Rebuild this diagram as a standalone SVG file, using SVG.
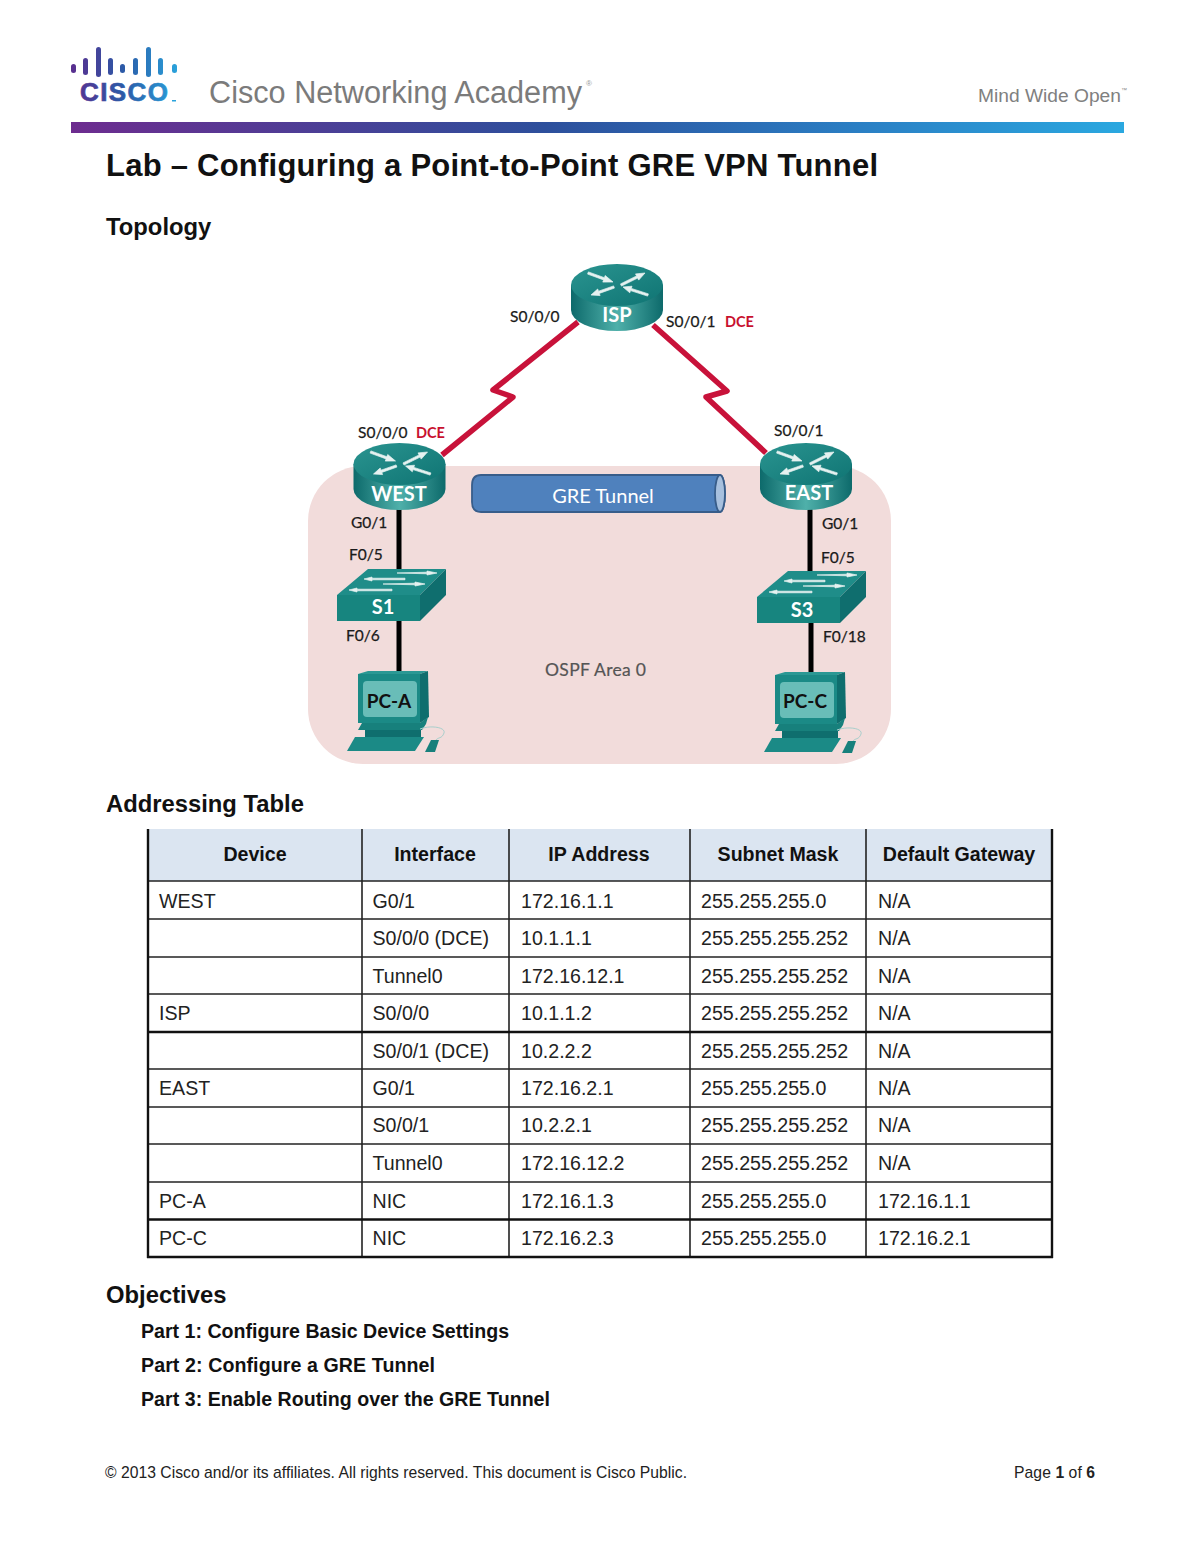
<svg xmlns="http://www.w3.org/2000/svg" xmlns:xlink="http://www.w3.org/1999/xlink" width="1200" height="1553" viewBox="0 0 1200 1553">
<style>
.h1{font:bold 31px "Liberation Sans",Arial,sans-serif;fill:#111}
.h2{font:bold 23.8px "Liberation Sans",Arial,sans-serif;fill:#111}
.th{font:bold 19.6px "Liberation Sans",Arial,sans-serif;fill:#111;text-anchor:middle}
.td{font:19.6px "Liberation Sans",Arial,sans-serif;fill:#222}
.obj{font:bold 19.6px "Liberation Sans",Arial,sans-serif;fill:#111}
.foot{font:15.7px "Liberation Sans",Arial,sans-serif;fill:#222}
.port{font:15.5px Lato,"Noto Sans",sans-serif;fill:#1a1a1a;stroke:#1a1a1a;stroke-width:.25}
.dce{font:bold 14.5px Lato,"Noto Sans",sans-serif;fill:#c8102e}
.dev{font:bold 20px Lato,"Noto Sans",sans-serif;fill:#fff;text-anchor:middle}
.pc{font:bold 19px Lato,"Noto Sans",sans-serif;fill:#111;text-anchor:middle}
.serial{fill:none;stroke:#c8123a;stroke-width:5.5;stroke-linejoin:round}
.eth{fill:none;stroke:#000;stroke-width:5}
.grid{stroke:#222;stroke-width:1.6}
.thick{stroke:#111;stroke-width:2.4}
.ar{fill:#e6f2f1;stroke:#e6f2f1;stroke-width:.7;stroke-linejoin:round}
</style>
<defs>
<linearGradient id="bar" x1="0" x2="1" y1="0" y2="0"><stop offset="0" stop-color="#6d2c8f"/><stop offset=".45" stop-color="#2d4f9c"/><stop offset=".75" stop-color="#2a7fc4"/><stop offset="1" stop-color="#2aa8e0"/></linearGradient>
<linearGradient id="logo" gradientUnits="userSpaceOnUse" x1="70" x2="178" y1="0" y2="0"><stop offset="0" stop-color="#5b2d8e"/><stop offset=".5" stop-color="#2b5ba8"/><stop offset="1" stop-color="#2aa3dc"/></linearGradient>
<linearGradient id="rbody" x1="0" x2="1" y1="0" y2="0"><stop offset="0" stop-color="#0d6a6b"/><stop offset=".5" stop-color="#4fb0aa"/><stop offset="1" stop-color="#0d6a6b"/></linearGradient>
<linearGradient id="rtop" x1="0" x2="1" y1="0" y2="1"><stop offset="0" stop-color="#2a9490"/><stop offset="1" stop-color="#0f7473"/></linearGradient>
<g id="router">
<path d="M-46 0V25A46 21 0 0 0 46 25V0Z" fill="url(#rbody)"/>
<ellipse rx="46" ry="21" fill="url(#rtop)"/>
<g class="ar">
<polygon points="-28.6,-13.1 -12.6,-7.3 -11.8,-9.5 -4,-3 -14.2,-2.9 -13.4,-5.1 -29.4,-10.9"/>
<polygon points="-3.4,.9 -18.5,6.2 -19.3,4 -26,10 -16.9,10.6 -17.7,8.4 -2.6,3.1"/>
<polygon points="3.5,-1.1 19.6,-9.1 18.5,-11.1 28,-12 21.7,-4.9 20.6,-6.9 4.5,1.1"/>
<polygon points="31.4,8.9 14.3,3.4 15,1.2 6,2 12.8,7.8 13.5,5.6 30.6,11.1"/>
</g>
</g>
<g id="switch">
<polygon points="0,26 31,0 109,0 83,26" fill="#1f8d89"/>
<polygon points="83,26 109,0 109,26 83,52" fill="#0f6e6e"/>
<rect y="26" width="83" height="26" fill="#17857f"/>
<g class="ar">
<polygon points="60,4 90,3.200 90,2 100,4 90,6 90,4.800"/>
<polygon points="27,10 35,8 35,9.200 68,9.200 68,10.800 35,10.800 35,12"/>
<polygon points="46,15 78,14.200 78,13 88,15 78,17 78,15.800"/>
<polygon points="12,21 20,19 20,20.200 55,20.200 55,21.800 20,21.800 20,23"/>
</g>
</g>
<g id="computer">
<polygon points="0,3 10,0 70,0 62,3" fill="#2b9894"/>
<polygon points="62,3 70,0 71,46 62,52" fill="#0f6e6e"/>
<rect y="3" width="62" height="49" fill="#1b8a86"/>
<rect x="5" y="10" width="54" height="36" rx="4" fill="#69bdb8"/>
<polygon points="4,52 62,52 70,46 68,53 64,59 0,59" fill="#17807c"/>
<rect x="7" y="59" width="56" height="7" fill="#0f6e6e"/>
<polygon points="-3,66 66,66 57,80 -11,80" fill="#1b8a86"/>
<polygon points="67,81 73,69 81,69 77,81" fill="#17807c"/>
<path d="M62 58C72 54 88 56 86 62C84 68 80 66 78 69" fill="none" stroke="#a9cfcc" stroke-width="1"/>
</g>
</defs>
<rect width="1200" height="1553" fill="#fff"/>

<g id="header">
<g fill="url(#logo)">
<rect x="71" y="64" width="5" height="9" rx="2.500"/><rect x="83" y="58" width="5" height="17" rx="2.500"/><rect x="96" y="47" width="5" height="30" rx="2.500"/><rect x="108" y="58" width="5" height="17" rx="2.500"/><rect x="120" y="64" width="5" height="9" rx="2.500"/><rect x="133" y="58" width="5" height="17" rx="2.500"/><rect x="146" y="47" width="5" height="30" rx="2.500"/><rect x="158" y="58" width="5" height="17" rx="2.500"/><rect x="172" y="64" width="5" height="9" rx="2.500"/>
</g>
<text x="80" y="101" font-family="Liberation Sans,sans-serif" font-weight="bold" font-size="26" letter-spacing="1.400" fill="url(#logo)" stroke="url(#logo)" stroke-width=".7">CISCO</text>
<rect x="172" y="100" width="4" height="1.500" fill="#2aa3dc"/>
<text x="209" y="103" font-family="Liberation Sans,sans-serif" font-size="31" textLength="373" lengthAdjust="spacingAndGlyphs" fill="#7b7b7b">Cisco Networking Academy</text>
<text x="586" y="86" font-family="Liberation Sans,sans-serif" font-size="8" fill="#999">®</text>
<text x="978" y="102" font-family="Liberation Sans,sans-serif" font-size="19.200" fill="#808080">Mind Wide Open</text>
<text x="1121" y="92" font-family="Liberation Sans,sans-serif" font-size="6" fill="#888">™</text>
<rect x="71" y="122" width="1053" height="11" fill="url(#bar)"/>
</g>

<text class="h1" x="106" y="176" textLength="772">Lab – Configuring a Point-to-Point GRE VPN Tunnel</text>
<text class="h2" x="106" y="235">Topology</text>

<rect id="ospf-area" x="308" y="466" width="583" height="298" rx="55" fill="#f2dcdb"/>
<text class="port" x="545" y="676" style="font-size:17.5px;fill:#555;stroke:#555;stroke-width:.2" textLength="101">OSPF Area 0</text>

<g id="connectors">
<path class="serial" d="M578 322L493 390L513 397L442 455"/>
<path class="serial" d="M653 325L727 391L706 397L766 453"/>
<path class="eth" d="M399 505V600M399 618V675"/>
<path class="eth" d="M810 505V600M811 620V676"/>
</g>

<g id="gre-tunnel">
<path d="M481 475H720A5 18.500 0 0 1 720 512H481C475 512 472 508 472 502V485C472 479 475 475 481 475Z" fill="#4f81bd" stroke="#385d8a" stroke-width="1.800"/>
<ellipse cx="720" cy="493.500" rx="5" ry="18.500" fill="#a7c0de" stroke="#385d8a" stroke-width="1.800"/>
<text x="603" y="503" font-family="Lato,sans-serif" font-size="20" fill="#fff" text-anchor="middle">GRE Tunnel</text>
</g>

<g id="ISP"><use xlink:href="#router" href="#router" x="617" y="285"/><text class="dev" x="617" y="322">ISP</text></g>
<g id="WEST"><use xlink:href="#router" href="#router" x="399.500" y="464"/><text class="dev" x="399" y="501">WEST</text></g>
<g id="EAST"><use xlink:href="#router" href="#router" x="806" y="464"/><text class="dev" x="809" y="500">EAST</text></g>
<g id="S1"><use xlink:href="#switch" href="#switch" x="337" y="569"/><text class="dev" x="383" y="614">S1</text></g>
<g id="S3"><use xlink:href="#switch" href="#switch" x="757" y="571"/><text class="dev" x="802" y="617">S3</text></g>
<g id="PC-A"><use xlink:href="#computer" href="#computer" x="358" y="671"/><text class="pc" x="389" y="708">PC-A</text></g>
<g id="PC-C"><use xlink:href="#computer" href="#computer" x="775" y="672"/><text class="pc" x="805" y="708">PC-C</text></g>

<g id="port-labels">
<text class="port" x="510" y="322">S0/0/0</text>
<text class="port" x="666" y="327">S0/0/1</text><text class="dce" x="725" y="327">DCE</text>
<text class="port" x="358" y="438">S0/0/0</text><text class="dce" x="416" y="438">DCE</text>
<text class="port" x="774" y="436">S0/0/1</text>
<text class="port" x="351" y="528">G0/1</text>
<text class="port" x="349" y="560">F0/5</text>
<text class="port" x="346" y="641">F0/6</text>
<text class="port" x="822" y="529">G0/1</text>
<text class="port" x="821" y="563">F0/5</text>
<text class="port" x="823" y="642">F0/18</text>
</g>

<text class="h2" x="106" y="812">Addressing Table</text>

<g id="addressing-table">
<rect x="148" y="829" width="904" height="52" fill="#dbe5f1"/>
<g class="grid">
<line x1="148" x2="1052" y1="881" y2="881"/><line x1="148" x2="1052" y1="919" y2="919"/><line x1="148" x2="1052" y1="957" y2="957"/><line x1="148" x2="1052" y1="994" y2="994"/><line x1="148" x2="1052" y1="1069" y2="1069"/><line x1="148" x2="1052" y1="1107" y2="1107"/><line x1="148" x2="1052" y1="1144" y2="1144"/><line x1="148" x2="1052" y1="1182" y2="1182"/>
<line x1="362" x2="362" y1="829" y2="1257"/><line x1="509" x2="509" y1="829" y2="1257"/><line x1="690" x2="690" y1="829" y2="1257"/><line x1="866" x2="866" y1="829" y2="1257"/>
</g>
<g class="thick">
<line x1="148" x2="1052" y1="1032" y2="1032"/><line x1="148" x2="1052" y1="1219.500" y2="1219.500"/><line x1="147" x2="1053" y1="1257" y2="1257"/>
<line x1="148" x2="148" y1="829" y2="1258"/><line x1="1052" x2="1052" y1="829" y2="1258"/>
</g>
<text class="th" x="255" y="861">Device</text><text class="th" x="435" y="861">Interface</text><text class="th" x="599" y="861">IP Address</text><text class="th" x="778" y="861">Subnet Mask</text><text class="th" x="959" y="861">Default Gateway</text>
<text class="td" x="159" y="908">WEST</text><text class="td" x="372.500" y="908">G0/1</text><text class="td" x="521" y="908">172.16.1.1</text><text class="td" x="701" y="908">255.255.255.0</text><text class="td" x="878" y="908">N/A</text>
<text class="td" x="372.500" y="945">S0/0/0 (DCE)</text><text class="td" x="521" y="945">10.1.1.1</text><text class="td" x="701" y="945">255.255.255.252</text><text class="td" x="878" y="945">N/A</text>
<text class="td" x="372.500" y="983">Tunnel0</text><text class="td" x="521" y="983">172.16.12.1</text><text class="td" x="701" y="983">255.255.255.252</text><text class="td" x="878" y="983">N/A</text>
<text class="td" x="159" y="1020">ISP</text><text class="td" x="372.500" y="1020">S0/0/0</text><text class="td" x="521" y="1020">10.1.1.2</text><text class="td" x="701" y="1020">255.255.255.252</text><text class="td" x="878" y="1020">N/A</text>
<text class="td" x="372.500" y="1058">S0/0/1 (DCE)</text><text class="td" x="521" y="1058">10.2.2.2</text><text class="td" x="701" y="1058">255.255.255.252</text><text class="td" x="878" y="1058">N/A</text>
<text class="td" x="159" y="1095">EAST</text><text class="td" x="372.500" y="1095">G0/1</text><text class="td" x="521" y="1095">172.16.2.1</text><text class="td" x="701" y="1095">255.255.255.0</text><text class="td" x="878" y="1095">N/A</text>
<text class="td" x="372.500" y="1132">S0/0/1</text><text class="td" x="521" y="1132">10.2.2.1</text><text class="td" x="701" y="1132">255.255.255.252</text><text class="td" x="878" y="1132">N/A</text>
<text class="td" x="372.500" y="1170">Tunnel0</text><text class="td" x="521" y="1170">172.16.12.2</text><text class="td" x="701" y="1170">255.255.255.252</text><text class="td" x="878" y="1170">N/A</text>
<text class="td" x="159" y="1208">PC-A</text><text class="td" x="372.500" y="1208">NIC</text><text class="td" x="521" y="1208">172.16.1.3</text><text class="td" x="701" y="1208">255.255.255.0</text><text class="td" x="878" y="1208">172.16.1.1</text>
<text class="td" x="159" y="1245">PC-C</text><text class="td" x="372.500" y="1245">NIC</text><text class="td" x="521" y="1245">172.16.2.3</text><text class="td" x="701" y="1245">255.255.255.0</text><text class="td" x="878" y="1245">172.16.2.1</text>
</g>

<text class="h2" x="106" y="1303">Objectives</text>
<text class="obj" x="141" y="1338">Part 1: Configure Basic Device Settings</text>
<text class="obj" x="141" y="1372" textLength="294">Part 2: Configure a GRE Tunnel</text>
<text class="obj" x="141" y="1406" textLength="409">Part 3: Enable Routing over the GRE Tunnel</text>
<text class="foot" x="105" y="1478" textLength="582">© 2013 Cisco and/or its affiliates. All rights reserved. This document is Cisco Public.</text>
<text class="foot" x="1014" y="1478" textLength="81">Page <tspan font-weight="bold">1</tspan> of <tspan font-weight="bold">6</tspan></text>
</svg>
